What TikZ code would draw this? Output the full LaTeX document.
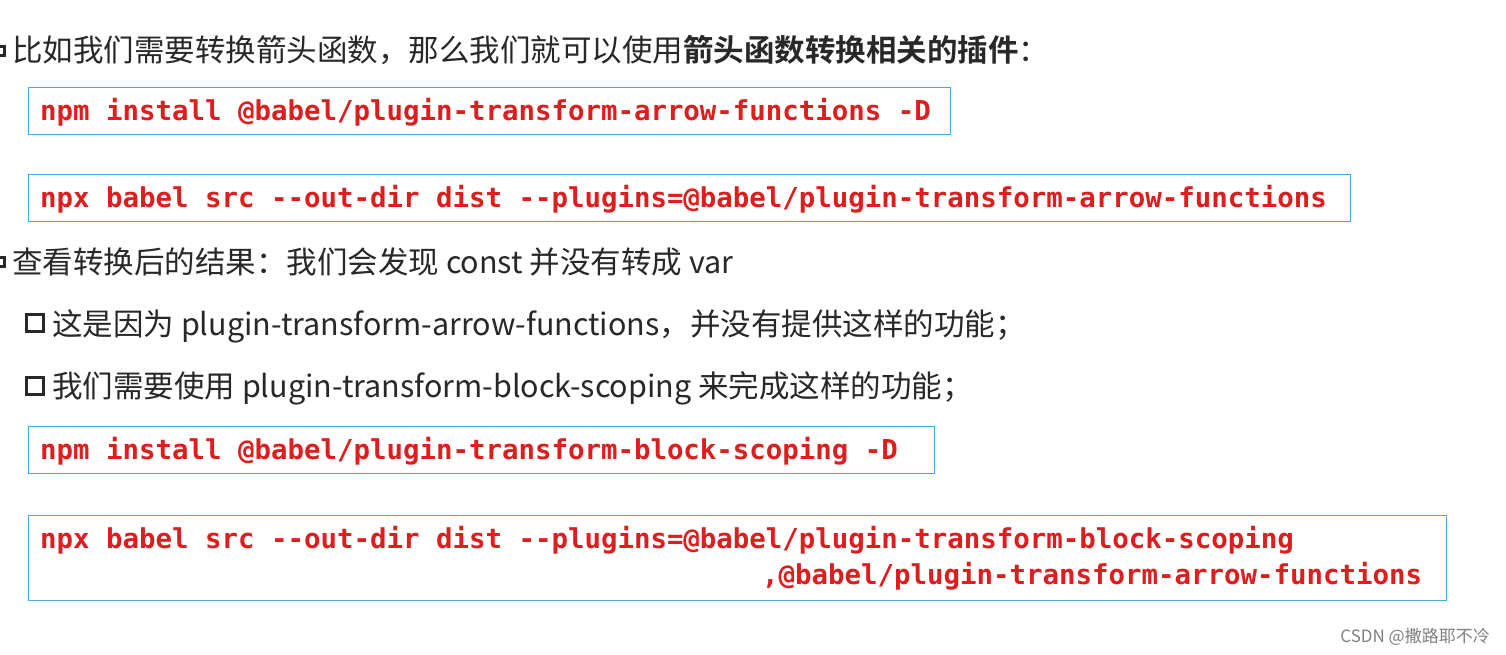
\documentclass[tikz,border=0pt]{standalone}
\usepackage{fontspec}
\newfontfamily\cjk{Noto Sans CJK SC}
\newfontfamily\cjkb{Noto Sans CJK SC Bold}
\newfontfamily\codef{DejaVu Sans Mono}
\definecolor{codered}{RGB}{222,30,30}
\definecolor{boxblue}{RGB}{70,170,220}
\definecolor{txt}{RGB}{40,40,40}
\begin{document}
\begin{tikzpicture}[x=1pt,y=-1pt,
  txtnode/.style={anchor=base west,inner sep=0pt,text=txt,font=\cjk\fontsize{30.5}{32}\selectfont},
  codenode/.style={anchor=base west,inner sep=0pt,text=codered,font=\codef\bfseries\fontsize{27.4}{36}\selectfont},
  codebox/.style={draw=boxblue,line width=1pt},
  bul/.style={draw=txt,line width=3pt}]
\useasboundingbox[fill=white] (0,0) rectangle (1506,654);
% bullets
\draw[bul] (-3,46) rectangle (4,55);
\draw[bul] (-3,257) rectangle (4,266);
\draw[bul] (26,314) rectangle (43,331);
\draw[bul] (26,377) rectangle (43,394);
% text lines
\node[txtnode] (t1) at (12,61) {比如我们需要转换箭头函数，那么我们就可以使用{\cjkb 箭头函数转换相关的插件}：};
\node[txtnode] (t2) at (12,273) {查看转换后的结果：我们会发现 const 并没有转成 var};
\node[txtnode] (t3) at (52,335) {这是因为 plugin-transform-arrow-functions，并没有提供这样的功能；};
\node[txtnode] (t4) at (52,397) {我们需要使用 plugin-transform-block-scoping 来完成这样的功能；};
% code boxes
\draw[codebox] (28,87) rectangle (950,134);
\node[codenode] (c1) at (40,120) {npm install @babel/plugin-transform-arrow-functions -D};
\draw[codebox] (28,174) rectangle (1350,221);
\node[codenode] (c2) at (40,207) {npx babel src --out-dir dist --plugins=@babel/plugin-transform-arrow-functions};
\draw[codebox] (28,426) rectangle (934,473);
\node[codenode] (c3) at (40,459) {npm install @babel/plugin-transform-block-scoping -D};
\draw[codebox] (28,515) rectangle (1446,600);
\node[codenode] (c4) at (40,548) {npx babel src --out-dir dist --plugins=@babel/plugin-transform-block-scoping};
\node[codenode] (c5) at (762,584) {,@babel/plugin-transform-arrow-functions};
% watermark
\node[anchor=base east,inner sep=0pt,text=gray,font=\cjk\fontsize{17}{20}\selectfont] (wm) at (1490,642) {CSDN @撒路耶不冷};
\end{tikzpicture}
\end{document}
